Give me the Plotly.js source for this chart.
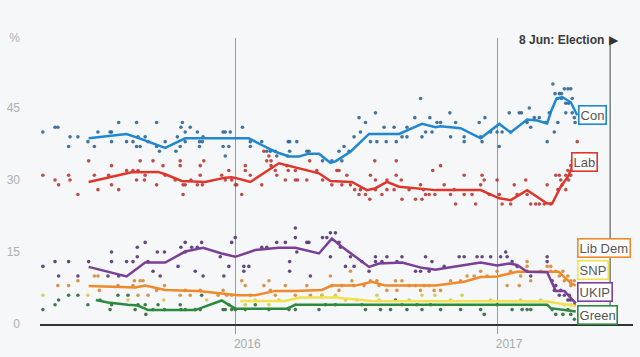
<!DOCTYPE html>
<html>
<head>
<meta charset="utf-8">
<script src="https://cdn.plot.ly/plotly-3.0.1.min.js"></script>
<style>
  html, body { margin: 0; padding: 0; background: #f5f7f9; }
  #chart { width: 640px; height: 357px; }
</style>
</head>
<body>
<div id="chart"></div>
<script>
// Poll dates are stored as days after 1 Jan 2016.
const BASE_DATE = Date.UTC(2016, 0, 1);
const ELECTION_DATE = '2017-06-08';
const ELECTION_LABEL = '8 Jun: Election';
const yTickVals = [0, 15, 30, 45, 59.6];
const yTickText = ['0', '15', '30', '45', '%'];
const xTickVals = ['2016-01-01', '2017-01-01'];
const xTickText = ['2016', '2017'];

const parties = ['Con', 'Lab', 'Lib Dem', 'SNP', 'UKIP', 'Green'];

// ---- individual polls: [day, value %] ----
const conPolls = [[-269,40],[-252,41],[-248,41],[-231,39],[-233,37],[-220,39],[-206,38],[-197,37],[-192,40],[-175,40],[-173,40],[-173,38],[-163,42],[-152,38],[-143,38],[-138,42],[-138,37],[-133,37],[-136,39],[-126,39],[-122,38],[-110,42],[-110,37],[-106,36],[-98,38],[-83,36],[-81,39],[-77,37],[-76,41],[-74,42],[-70,40],[-70,38],[-63,41],[-53,40],[-50,38],[-46,38],[-50,37],[-45,39],[-17,40],[-14,40],[-7,40],[-17,37],[-9,37],[-14,35],
[10,41],[21,38],[21,37],[37,38],[44,36],[49,36],[56,36],[58,35],[74,38],[76,38],[76,36],[86,38],[73,35],[100,36],[103,36],[122,34],[135,34],[145,36],[149,34],[152,37],[159,36],[166,39],[173,43],[175,40],[182,42],[189,38],[196,44],[198,38],[208,41],[211,38],[222,41],[225,38],[233,39],[240,41],[240,39],[251,43],[259,47],[261,39],[266,40],[272,43],[275,40],
[282,42],[287,42],[300,44],[301,39],[308,42],[320,39],[320,38],[341,42],[343,39],[345,38],[349,43],[357,40],[366,40],[369,37],[373,40],[383,44],[385,40],[397,44],[400,44],[411,45],[408,42],[413,41],[418,43],[425,43],[434,42],[439,44],[444,50],[446,40],[436,38],[451,42],[447,48],[453,48],[456,48],[460,49],[465,49],[469,49],[451,47],[456,47],[462,46],[466,46],[471,47],[462,44],[471,44],[474,43],[475,42]];

const labPolls = [[-269,31],[-252,30],[-247,29],[-233,31],[-231,30],[-220,27],[-205,34],[-197,31],[-192,28],[-177,31],[-173,33],[-173,29],[-163,28],[-152,32],[-143,32],[-138,30],[-133,34],[-136,32],[-127,30],[-126,31],[-115,34],[-110,29],[-101,33],[-98,31],[-84,30],[-77,34],[-77,33],[-73,29],[-73,27],[-70,29],[-62,30],[-53,29],[-49,33],[-49,31],[-46,29],[-44,34],[-19,31],[-14,30],[-9,32],[-5,30],[0,29],
[2,29],[9,27],[14,33],[14,32],[21,31],[37,29],[40,36],[47,35],[44,34],[50,34],[50,33],[58,31],[56,32],[70,30],[72,33],[74,32],[84,32],[84,30],[87,30],[100,30],[104,34],[114,32],[122,30],[135,29],[142,32],[145,32],[149,29],[156,31],[161,29],[167,28],[173,27],[175,28],[182,27],[188,26],[189,31],[195,34],[196,30],[196,28],[205,27],[212,30],[212,28],[222,28],[225,31],[225,34],[232,30],[233,26],[243,28],[252,26],[259,29],[261,26],[263,28],[266,27],[271,27],[276,32],[279,27],
[287,33],[292,29],[301,27],[306,28],[308,25],[320,31],[320,27],[331,27],[336,25],[345,31],[348,30],[343,29],[355,27],[366,30],[369,27],[373,25],[385,25],[390,29],[394,27],[406,30],[408,27],[413,25],[420,25],[425,25],[432,25],[436,29],[441,25],[448,31],[453,31],[455,30],[457,29],[451,28],[462,31],[465,32],[462,28],[469,33],[471,34],[474,35],[466,30],[469,31],[478,38]];

const ldPolls = [[-248,8],[-233,8],[-220,9],[-197,10],[-192,10],[-190,7],[-164,8],[-143,8],[-141,9],[-133,9],[-129,9],[-136,6],[-122,6],[-110,7],[-99,8],[-77,6],[-70,7],[-63,6],[-49,7],[-24,6],[-17,7],[-12,6],[-5,6],
[9,9],[14,8],[21,6],[40,8],[47,9],[49,7],[56,6],[70,8],[84,6],[100,8],[105,6],[121,6],[133,10],[135,8],[145,7],[149,8],[161,11],[163,9],[166,8],[180,8],[189,9],[198,9],[201,8],[212,7],[224,9],[226,7],[233,9],[243,8],[252,8],[259,7],[264,8],[271,8],[278,7],
[287,7],[301,9],[315,9],[324,10],[334,10],[343,11],[352,10],[366,11],[380,8],[385,11],[397,8],[399,10],[408,13],[408,12],[413,9],[427,11],[436,12],[441,12],[441,11],[448,11],[453,10],[458,11],[460,9],[465,10],[469,8],[469,9],[474,9]];

const snpPolls = [[-269,6],[-206,6],[-150,5],[-100,5],[-40,5],
[14,4],[28,5],[47,4],[61,5],[84,4],[121,6],[140,6],[154,5],[170,5],[198,6],[201,5],[243,5],[261,6],[279,6],
[301,5],[317,6],[357,5],[399,5],[427,5],[460,4],[467,5],[469,4]];

const ukipPolls = [[-269,12],[-252,13],[-247,10],[-233,13],[-220,10],[-205,13],[-173,15],[-173,13],[-178,10],[-163,10],[-152,13],[-137,16],[-137,14],[-143,13],[-126,17],[-122,13],[-115,11],[-109,15],[-105,10],[-99,15],[-80,12],[-76,16],[-70,17],[-70,15],[-61,16],[-56,11],[-53,16],[-47,17],[-45,10],[-21,14],[-16,10],[-9,12],[-5,17],[0,18],
[12,12],[19,12],[12,11],[37,16],[44,16],[58,17],[70,17],[76,13],[76,11],[84,20],[84,18],[86,15],[100,17],[103,17],[105,10],[122,18],[128,18],[133,19],[140,19],[133,14],[145,17],[147,16],[154,12],[161,14],[166,12],[177,13],[187,11],[196,14],[196,13],[205,13],[212,14],[226,13],[233,14],[252,11],[259,11],[266,14],[271,11],[275,13],
[292,12],[313,14],[320,14],[338,14],[345,14],[357,14],[371,14],[378,15],[380,14],[387,13],[394,12],[408,11],[413,10],[436,14],[436,13],[443,9],[446,7],[448,8],[453,6],[455,7],[460,6],[465,5],[467,6],[469,5],[474,4]];

const greenPolls = [[-269,3],[-252,4],[-247,5],[-233,6],[-220,6],[-206,4],[-189,5],[-175,3],[-173,4],[-164,6],[-150,6],[-140,3],[-136,4],[-126,4],[-125,2],[-115,3],[-108,4],[-99,3],[-77,4],[-76,3],[-70,3],[-56,3],[-49,3],[-47,6],[-17,3],[-14,3],[-9,4],[-5,3],
[0,3],[14,3],[28,4],[47,3],[75,3],[84,3],[117,3],[126,4],[140,4],[177,4],[182,3],[203,3],[217,3],[224,5],[233,4],[240,3],[254,4],[261,3],
[273,4],[287,3],[315,3],[343,3],[348,2],[366,4],[387,3],[401,3],[408,3],[413,3],[443,3],[448,2],[458,2],[465,3],[469,2],[474,1]];

// ---- poll of polls trend: [day, value %] ----
const conTrend = [[-205,38.7],[-152,39.6],[-136,38.8],[-98,36.7],[-70,38.7],[4,38.7],[19,38.7],[37,37.3],[56,35.9],[75,34.9],[89,34.9],[103,35.5],[117,35.5],[133,33.6],[140,33.9],[161,35.9],[187,39.6],[229,39.6],[261,41.7],[280,41.0],[287,41.2],[315,40.8],[343,38.7],[369,41.7],[385,39.9],[408,42.6],[422,42.4],[436,41.8],[442,44.5],[449,47.0],[457,47.3],[469,46.2],[478,43.5]];
const labTrend = [[-205,29.6],[-145,31.6],[-108,31.7],[-98,31.2],[-75,29.8],[-42,29.6],[-14,30.5],[-5,30.6],[4,30.3],[21,29.6],[61,33.5],[79,32.8],[117,31.4],[133,29.8],[163,29.6],[184,27.9],[196,28.3],[212,29.6],[229,28.6],[280,27.9],[343,27.9],[369,26.2],[385,25.8],[408,27.9],[436,25.1],[443,25.1],[455,28.6],[465,30.7],[474,33.8],[478,34.9]];
const ldTrend = [[-205,7.9],[-182,7.8],[-140,7.6],[-126,8.0],[-98,7.1],[-52,6.9],[-24,6.4],[4,6.0],[28,6.0],[56,6.9],[84,6.9],[121,7.1],[135,8.0],[168,8.0],[191,8.8],[210,8.0],[280,8.0],[320,8.8],[343,9.8],[366,9.9],[394,10.9],[436,10.9],[452,10.9],[462,9.5],[469,8.5],[476,8.0]];
const snpTrend = [[7,4.8],[70,4.8],[90,5.5],[140,5.5],[190,4.8],[300,4.7],[436,4.7],[455,4.2],[476,3.8]];
const ukipTrend = [[-205,11.9],[-152,9.9],[-126,12.8],[-98,12.8],[-70,15.1],[-45,15.9],[-19,14.7],[0,14.0],[28,15.4],[61,15.9],[84,15.9],[117,14.7],[135,17.8],[149,16.1],[168,14.0],[187,11.9],[201,12.6],[233,12.8],[261,11.7],[280,11.3],[292,11.6],[320,12.3],[343,12.8],[366,12.2],[383,12.6],[394,12.3],[408,10.9],[436,10.8],[443,8.5],[448,6.9],[460,6.9],[469,5.4],[476,4.3]];
const greenTrend = [[-195,5.0],[-178,4.5],[-150,4.0],[-136,3.85],[-122,2.9],[-56,2.9],[-19,4.9],[0,3.2],[72,3.2],[84,4.0],[280,4.0],[436,4.0],[441,3.3],[476,2.6]];

const pollSets = [conPolls, labPolls, ldPolls, snpPolls, ukipPolls, greenPolls];
const trendSets = [conTrend, labTrend, ldTrend, snpTrend, ukipTrend, greenTrend];

// ---- styles ----
const lineColors = ['#1f88d0', '#e0352b', '#f0892a', '#f2e24a', '#7a3f96', '#2b8a3e'];
const dotColors  = ['#2f6596', '#b93a33', '#d48838', '#d2c649', '#573373', '#2f6b39'];
const labelPos = [
  {x: 0.908, y: 43.5},
  {x: 0.896, y: 33.8},
  {x: 0.906, y: 15.8},
  {x: 0.906, y: 11.2},
  {x: 0.906, y: 6.7},
  {x: 0.906, y: 1.9}
];

function toDate(d) {
  return new Date(BASE_DATE + d * 86400000).toISOString().slice(0, 10);
}

const traces = [];
pollSets.forEach((set, i) => {
  traces.push({
    type: 'scatter', mode: 'markers', hoverinfo: 'skip', showlegend: false,
    x: set.map(p => toDate(p[0])), y: set.map(p => p[1]),
    marker: {size: 3.6, color: dotColors[i], opacity: 0.9}
  });
});
trendSets.forEach((set, i) => {
  traces.push({
    type: 'scatter', mode: 'lines', hoverinfo: 'skip', showlegend: false,
    x: set.map(p => toDate(p[0])), y: set.map(p => p[1]),
    line: {color: lineColors[i], width: 2.5}
  });
});

const FONT = 'Liberation Sans, Arial, Helvetica, sans-serif';

const annotations = parties.map((name, i) => ({
  xref: 'paper', yref: 'y', x: labelPos[i].x, y: labelPos[i].y,
  xanchor: 'left', yanchor: 'middle', showarrow: false,
  text: name, font: {family: FONT, size: 13, color: '#555'},
  bgcolor: '#ffffff', bordercolor: lineColors[i], borderwidth: 1.6, borderpad: 1
}));
annotations.push({
  xref: 'x', yref: 'paper', x: ELECTION_DATE, y: 0.993, xanchor: 'right', yanchor: 'middle',
  xshift: -4, showarrow: false, text: '<b>' + ELECTION_LABEL + '</b>',
  font: {family: FONT, size: 12, color: '#3a3a3a'}
});
annotations.push({
  xref: 'x', yref: 'paper', x: ELECTION_DATE, y: 0.993, xanchor: 'left', yanchor: 'middle',
  xshift: -3, showarrow: false, text: '▶',
  font: {family: 'DejaVu Sans, sans-serif', size: 12, color: '#333'}
});

const layout = {
  width: 640, height: 357,
  margin: {l: 40, r: 7, t: 38, b: 33},
  paper_bgcolor: '#f5f7f9', plot_bgcolor: '#f5f7f9',
  font: {family: FONT},
  showlegend: false,
  xaxis: {
    type: 'date', range: ['2015-04-03', '2017-07-10'],
    tickvals: xTickVals, ticktext: xTickText,
    showgrid: true, gridcolor: '#9a9a9a', gridwidth: 1,
    ticks: 'outside', ticklen: 8, tickcolor: '#9a9a9a', tickwidth: 1,
    ticklabelshift: 12,
    tickfont: {family: FONT, size: 12, color: '#aaaaaa'},
    showline: true, linecolor: '#333333', linewidth: 1.6,
    zeroline: false, fixedrange: true
  },
  yaxis: {
    range: [0, 59.6],
    tickvals: yTickVals, ticktext: yTickText,
    showgrid: false, zeroline: false, showline: false, ticks: '',
    ticklabelstandoff: 19,
    tickfont: {family: FONT, size: 12, color: '#b0b0b0'},
    fixedrange: true
  },
  shapes: [{
    type: 'line', xref: 'x', yref: 'paper',
    x0: ELECTION_DATE, x1: ELECTION_DATE, y0: 0, y1: 0.993,
    line: {color: '#444', width: 1}
  }],
  annotations: annotations
};

Plotly.newPlot('chart', traces, layout, {staticPlot: true, displayModeBar: false});
</script>
</body>
</html>
